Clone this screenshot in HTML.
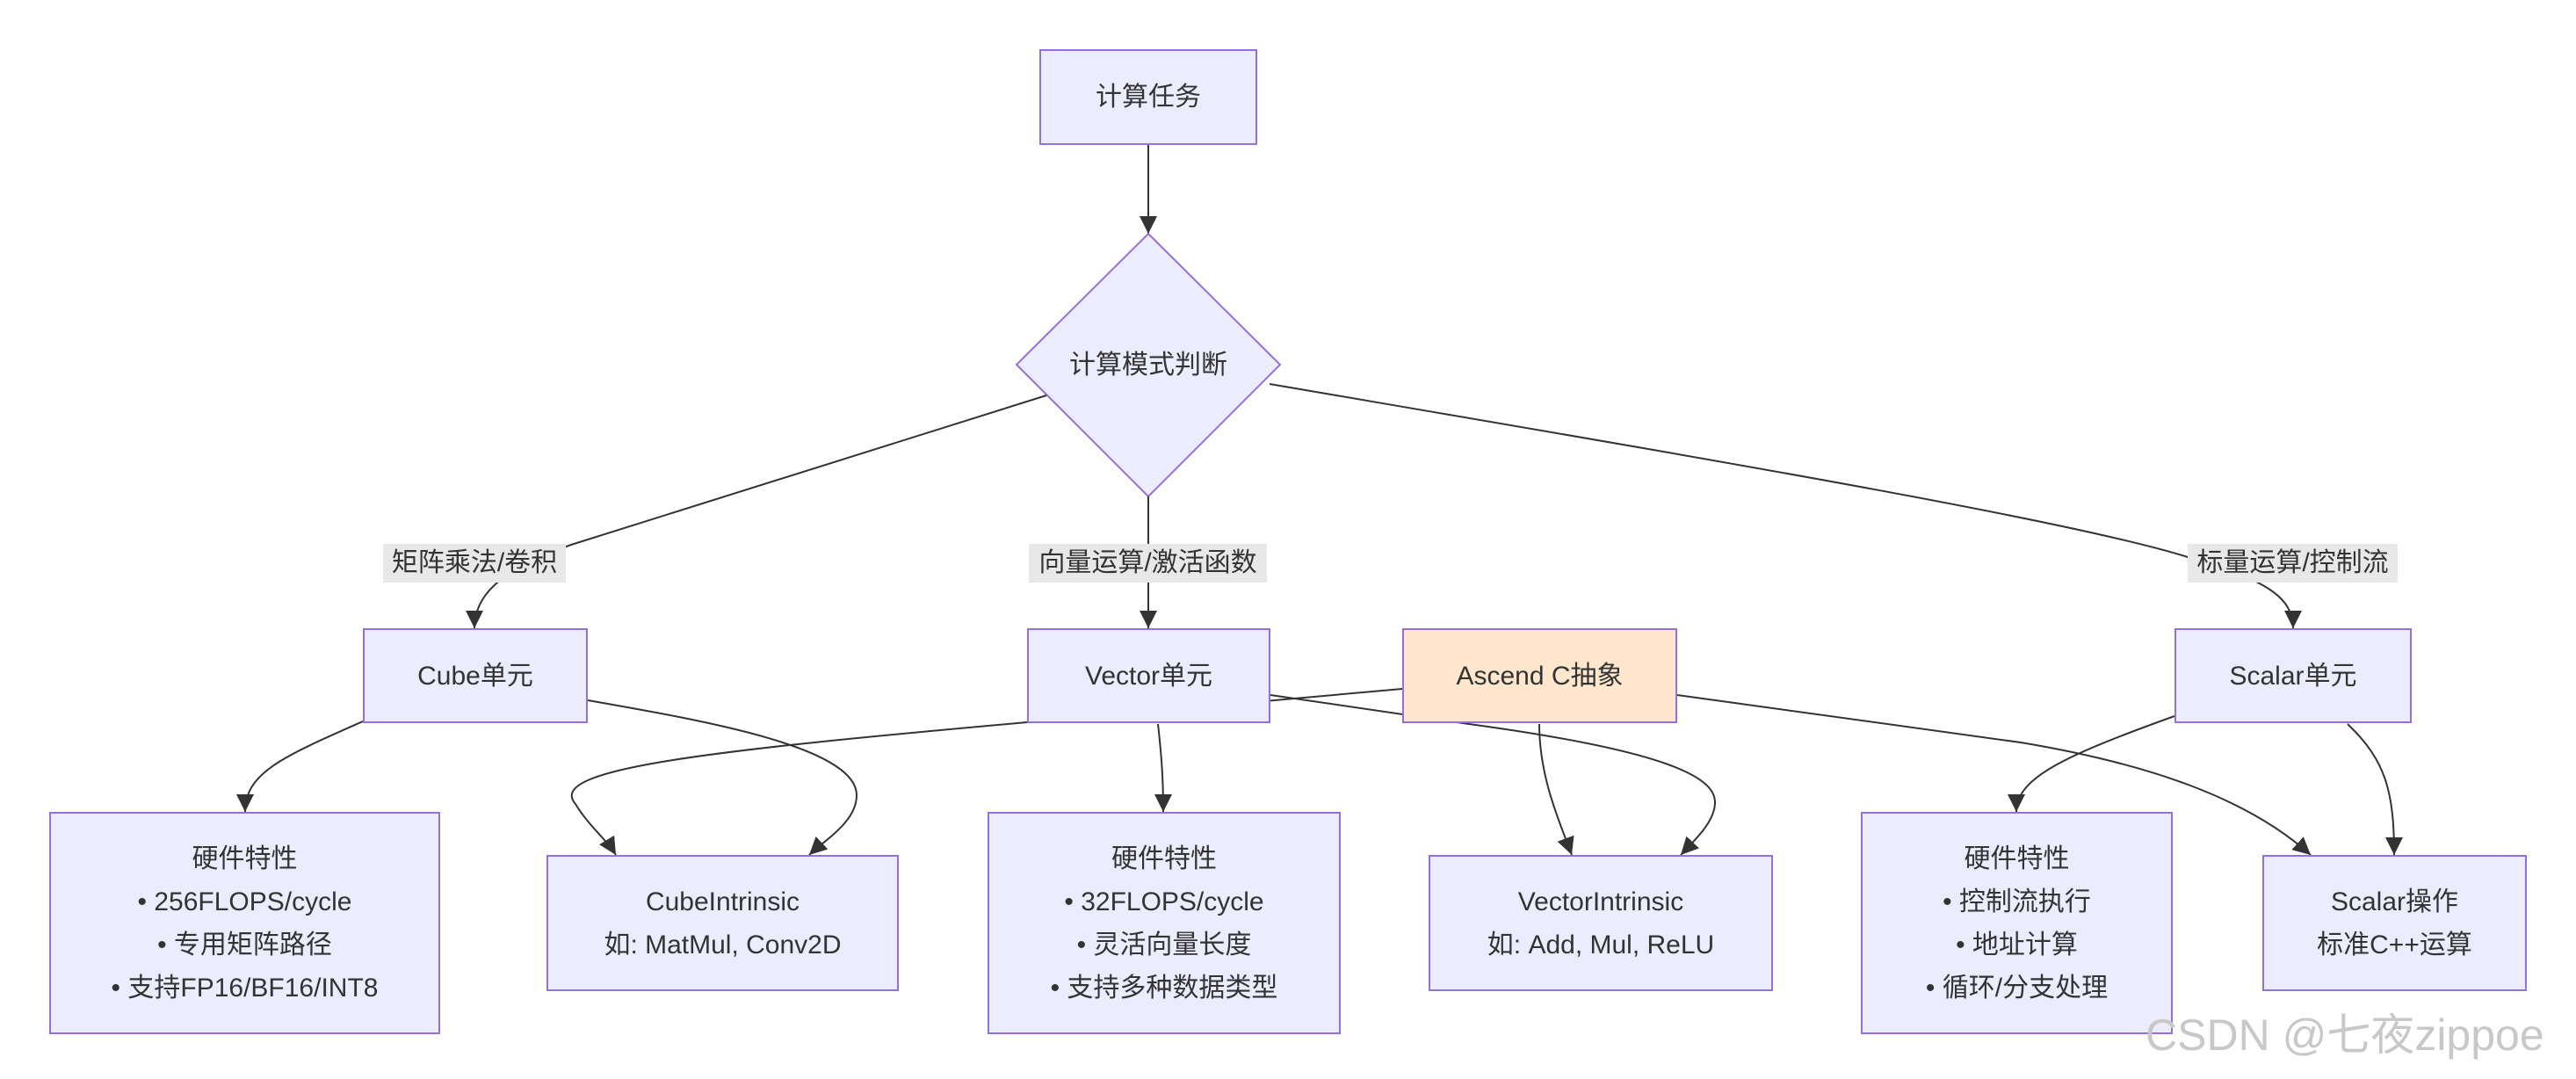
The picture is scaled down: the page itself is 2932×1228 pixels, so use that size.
<!DOCTYPE html>
<html><head><meta charset="utf-8"><style>
body{margin:0;width:2932px;height:1228px;background:#fff;position:relative;overflow:hidden;font-family:"Liberation Sans","Noto Sans CJK SC",sans-serif;color:#333}
.n{position:absolute;box-sizing:border-box;background:#ECECFF;border:2px solid #9370DB;display:flex;flex-direction:column;align-items:center;justify-content:center;font-size:30px;line-height:49px;text-align:center}
.l{position:absolute;background:#e8e8e8;font-size:30px;line-height:44px;text-align:center}
svg{position:absolute;left:0;top:0}
</style></head><body>
<svg width="2932" height="1228">
<defs><marker id="b" viewBox="0 0 10 10" refX="10" refY="5" markerWidth="20" markerHeight="20" orient="auto" markerUnits="userSpaceOnUse"><path d="M0,0L10,5L0,10z" fill="#333"/></marker></defs>
<g fill="none" stroke="#333" stroke-width="2" marker-end="url(#b)">
<path d="M1307,165L1307,266"/>
<polygon points="1307,266 1457,415 1307,565 1157,415" fill="#ECECFF" stroke="#9370DB" marker-end="none"/>
<path d="M1191,450 L650,620 C565,650 540,680 540,715"/>
<path d="M1307,565 L1307,715"/>
<path d="M1445,437 C1900,515 2350,590 2490,634 C2580,660 2610,680 2610,715"/>
<path d="M413,821 C320,862 279,880 279,924"/>
<path d="M1596,784 L1169,822 C800,855 620,875 655,915 C670,940 690,955 701,973"/>
<path d="M669,797 C800,820 975,850 975,905 C975,935 940,955 921,973"/>
<path d="M1446,791 L1672,824 C1900,855 1952,885 1952,913 C1952,935 1930,955 1913,973"/>
<path d="M1752,824 C1752,885 1775,935 1789,973"/>
<path d="M1318,824 C1322,860 1324,885 1324,924"/>
<path d="M1909,791 L2300,845 C2450,870 2560,910 2630,973"/>
<path d="M2475,815 C2350,860 2295,885 2295,924"/>
<path d="M2672,824 C2715,865 2725,900 2725,973"/>
</g>
<text x="1307" y="425" font-size="30" text-anchor="middle" fill="#333" font-family="Liberation Sans, Noto Sans CJK SC, sans-serif">计算模式判断</text>
</svg>
<div class="n" style="left:1183px;top:56px;width:248px;height:109px">计算任务</div>
<div class="l" style="left:436px;top:619px;width:208px">矩阵乘法/卷积</div>
<div class="l" style="left:1171px;top:619px;width:271px">向量运算/激活函数</div>
<div class="l" style="left:2490px;top:619px;width:239px">标量运算/控制流</div>
<div class="n" style="left:413px;top:715px;width:256px;height:108px">Cube单元</div>
<div class="n" style="left:1169px;top:715px;width:277px;height:108px">Vector单元</div>
<div class="n" style="left:1596px;top:715px;width:313px;height:108px;background:#FFE6CC">Ascend C抽象</div>
<div class="n" style="left:2475px;top:715px;width:270px;height:108px">Scalar单元</div>
<div class="n" style="left:56px;top:924px;width:445px;height:253px"><div>硬件特性</div><div>• 256FLOPS/cycle</div><div>• 专用矩阵路径</div><div>• 支持FP16/BF16/INT8</div></div>
<div class="n" style="left:622px;top:973px;width:401px;height:155px"><div>CubeIntrinsic</div><div>如: MatMul, Conv2D</div></div>
<div class="n" style="left:1124px;top:924px;width:402px;height:253px"><div>硬件特性</div><div>• 32FLOPS/cycle</div><div>• 灵活向量长度</div><div>• 支持多种数据类型</div></div>
<div class="n" style="left:1626px;top:973px;width:392px;height:155px"><div>VectorIntrinsic</div><div>如: Add, Mul, ReLU</div></div>
<div class="n" style="left:2118px;top:924px;width:355px;height:253px"><div>硬件特性</div><div>• 控制流执行</div><div>• 地址计算</div><div>• 循环/分支处理</div></div>
<div class="n" style="left:2575px;top:973px;width:301px;height:155px"><div>Scalar操作</div><div>标准C++运算</div></div>
<div style="position:absolute;left:2442px;top:1148px;font-size:50px;line-height:60px;color:#c8c8c8;white-space:nowrap">CSDN @七夜zippoe</div>
</body></html>
